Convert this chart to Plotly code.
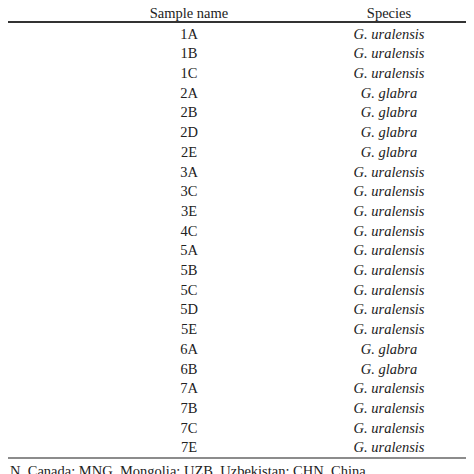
import plotly.graph_objects as go

samples = ["1A", "1B", "1C", "2A", "2B", "2D", "2E", "3A", "3C", "3E", "4C",
           "5A", "5B", "5C", "5D", "5E", "6A", "6B", "7A", "7B", "7C", "7E"]
species = ["G. uralensis", "G. uralensis", "G. uralensis", "G. glabra", "G. glabra",
           "G. glabra", "G. glabra", "G. uralensis", "G. uralensis", "G. uralensis",
           "G. uralensis", "G. uralensis", "G. uralensis", "G. uralensis", "G. uralensis",
           "G. uralensis", "G. glabra", "G. glabra", "G. uralensis", "G. uralensis",
           "G. uralensis", "G. uralensis"]
headers = ["Sample name", "Species"]
footnote = "N, Canada; MNG, Mongolia; UZB, Uzbekistan; CHN, China"

top, pitch = 27, 19.7
ys = [top + i * pitch for i in range(len(samples))]
font = dict(family="Liberation Serif", size=14.5, color="#222")

fig = go.Figure()
fig.add_trace(go.Scatter(x=[181] * len(samples), y=ys, mode="text", text=samples,
                         textfont=font, hoverinfo="skip"))
fig.add_trace(go.Scatter(x=[381] * len(species), y=ys, mode="text",
                         text=["<i>%s</i>" % s for s in species],
                         textfont=font, hoverinfo="skip"))
fig.add_trace(go.Scatter(x=[181, 381], y=[6, 6], mode="text", text=headers,
                         textfont=font, hoverinfo="skip", cliponaxis=False))
fig.add_annotation(x=0, y=463, text=footnote, showarrow=False, xanchor="left",
                   font=font)
fig.add_shape(type="line", x0=0, x1=474, y0=14, y1=14, line=dict(color="#333", width=2))
fig.add_shape(type="line", x0=0, x1=474, y0=450, y1=450, line=dict(color="#666", width=1.5))

fig.update_layout(width=474, height=474, margin=dict(l=0, r=0, t=0, b=0),
                  paper_bgcolor="white", plot_bgcolor="white", showlegend=False)
fig.update_xaxes(range=[0, 474], visible=False)
fig.update_yaxes(range=[474, 0], visible=False)
fig.write_html("out.html")
